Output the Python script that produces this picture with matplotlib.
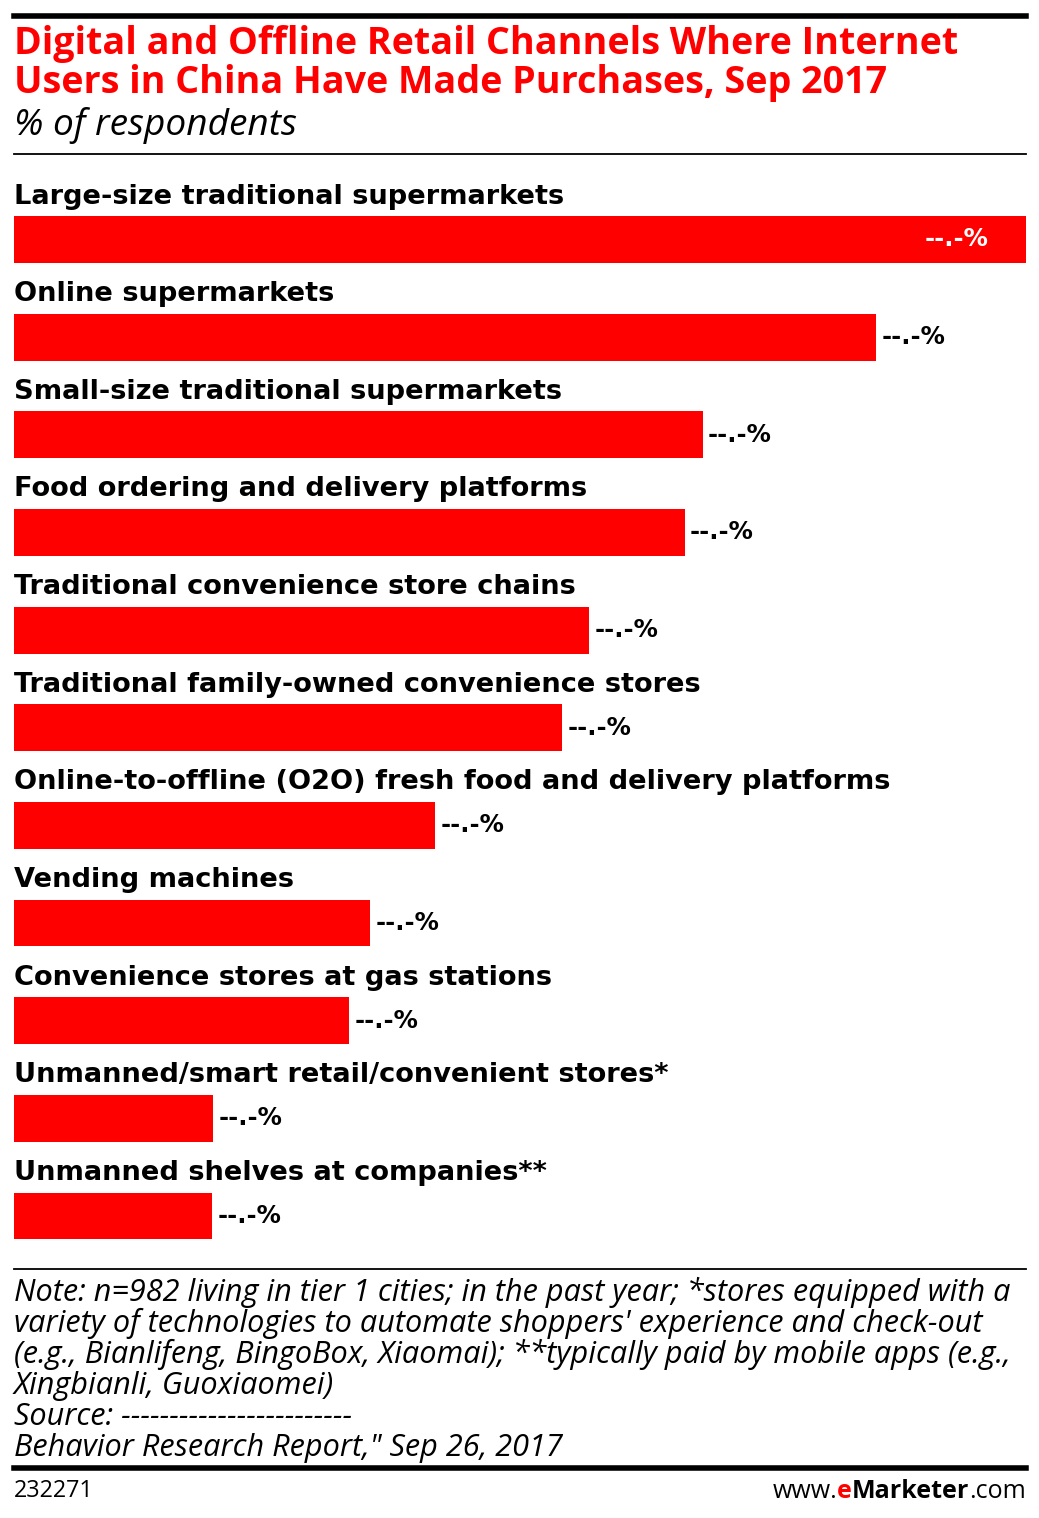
import matplotlib
matplotlib.use("Agg")
import matplotlib.pyplot as plt
from matplotlib.lines import Line2D

categories = [
    "Large-size traditional supermarkets",
    "Online supermarkets",
    "Small-size traditional supermarkets",
    "Food ordering and delivery platforms",
    "Traditional convenience store chains",
    "Traditional family-owned convenience stores",
    "Online-to-offline (O2O) fresh food and delivery platforms",
    "Vending machines",
    "Convenience stores at gas stations",
    "Unmanned/smart retail/convenient stores*",
    "Unmanned shelves at companies**",
]
values = [67.0, 57.1, 45.6, 44.4, 38.1, 36.3, 27.9, 23.6, 22.2, 13.2, 13.1]
value_labels = ["--.-%"] * len(values)

W, H = 1039, 1518
fig = plt.figure(figsize=(W / 100, H / 100), dpi=100)
fig.patch.set_facecolor("white")
fig.canvas.draw()
R = fig.canvas.get_renderer()

def fx(px):
    return px / W

def fy(py):
    return 1 - py / H

def fit(t, target_px):
    for _ in range(2):
        w = t.get_window_extent(R).width
        t.set_fontsize(t.get_fontsize() * target_px / w)
    return t

RED = "#ff0000"
TITLEF = ["Open Sans", "Fira Sans", "DejaVu Sans"]
NOTEF = ["Open Sans", "Fira Sans", "DejaVu Sans"]
BOLD = ["DejaVu Sans", "Liberation Sans"]

# top thick rule
fig.add_artist(Line2D([fx(14), fx(1026)], [fy(16), fy(16)], color="black", lw=4.0, transform=fig.transFigure))
t = fig.text(fx(14), fy(44), "Digital and Offline Retail Channels Where Internet", color=RED,
             fontsize=24, fontweight="bold", family=TITLEF, va="center", ha="left")
fit(t, 938)
ts = t.get_fontsize()
fig.text(fx(14), fy(83), "Users in China Have Made Purchases, Sep 2017", color=RED,
         fontsize=ts, fontweight="bold", family=TITLEF, va="center", ha="left")
t = fig.text(fx(14), fy(126), "% of respondents", color="black", fontsize=22, style="italic",
             family=NOTEF, va="center", ha="left")
fit(t, 283)
fig.add_artist(Line2D([fx(14), fx(1026)], [fy(154), fy(154)], color="black", lw=1.3, transform=fig.transFigure))

# bar axes
top_px, bot_px = 170, 1260
ax = fig.add_axes([fx(14), fy(bot_px), fx(1026) - fx(14), (bot_px - top_px) / H])
unit = 97.65
c0 = 239.5
ylim_top = -(c0 - top_px) / unit
ylim_bot = ylim_top + (bot_px - top_px) / unit
n = len(values)
ypos = list(range(n))
ax.barh(ypos, values, height=0.48, color=RED, edgecolor="none")
ax.set_xlim(0, values[0])
ax.set_ylim(ylim_bot, ylim_top)
ax.axis("off")

for i, (cat, v, lab) in enumerate(zip(categories, values, value_labels)):
    ax.text(0, i - 0.44, cat, fontsize=19.6, fontweight="bold", family=BOLD,
            va="center", ha="left", color="black")
    if i == 0:
        ax.text(v - 2.5, i, lab, fontsize=17.5, fontweight="bold", family=BOLD,
                va="center", ha="right", color="white")
    else:
        ax.text(v + 0.35, i, lab, fontsize=17.5, fontweight="bold", family=BOLD,
                va="center", ha="left", color="black")

# note
fig.add_artist(Line2D([fx(14), fx(1026)], [fy(1269), fy(1269)], color="black", lw=1.3, transform=fig.transFigure))
note_lines = [
    "Note: n=982 living in tier 1 cities; in the past year; *stores equipped with a",
    "variety of technologies to automate shoppers' experience and check-out",
    "(e.g., Bianlifeng, BingoBox, Xiaomai); **typically paid by mobile apps (e.g.,",
    "Xingbianli, Guoxiaomei)",
    "Source: ------------------------",
    "Behavior Research Report,\" Sep 26, 2017",
]
note_texts = []
for k, line in enumerate(note_lines):
    note_texts.append(fig.text(fx(14), fy(1292 + k * 31.2), line, fontsize=18, style="italic",
                               family=NOTEF, va="center", ha="left", color="black"))
fit(note_texts[0], 998)
ns = note_texts[0].get_fontsize()
for tt in note_texts[1:]:
    tt.set_fontsize(ns)

fig.add_artist(Line2D([fx(14), fx(1026)], [fy(1468), fy(1468)], color="black", lw=4.0, transform=fig.transFigure))
t = fig.text(fx(14), fy(1491), "232271", fontsize=15, family=NOTEF,
             va="center", ha="left", color="black")
fit(t, 80)
fs = t.get_fontsize() * 1.07

# eMarketer logo text
t3 = fig.text(fx(1026), fy(1491), ".com", fontsize=fs, family=NOTEF,
              va="center", ha="right", color="black")
bb3 = t3.get_window_extent(R)
t2 = fig.text(bb3.x0 / W, fy(1491), "Marketer", fontsize=fs, fontweight="bold", family=NOTEF,
              va="center", ha="right", color="black")
bb2 = t2.get_window_extent(R)
t1 = fig.text(bb2.x0 / W, fy(1491), "e", fontsize=fs, fontweight="bold", family=NOTEF,
              va="center", ha="right", color=RED)
bb1 = t1.get_window_extent(R)
fig.text(bb1.x0 / W, fy(1491), "www.", fontsize=fs, family=NOTEF,
         va="center", ha="right", color="black")

fig.savefig("out.png", dpi=100, facecolor="white")
